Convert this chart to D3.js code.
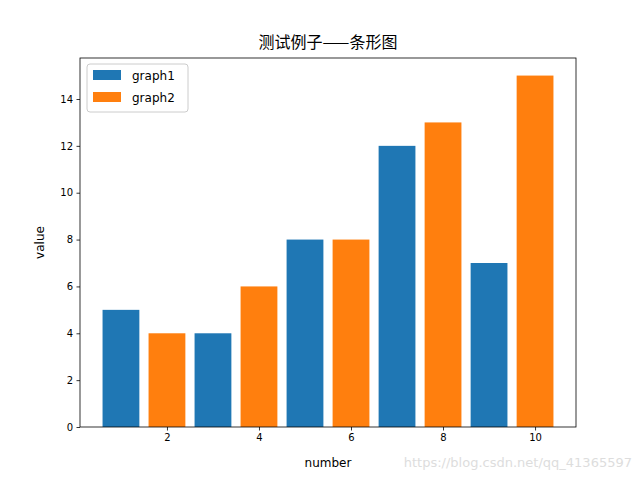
<!DOCTYPE html>
<html><head><meta charset="utf-8">
<script src="https://d3js.org/d3.v7.min.js"></script>
<style>body{margin:0;background:#fff}text{font-family:"DejaVu Sans",sans-serif}</style>
</head><body><svg id="c" width="640" height="480"></svg>
<script>
const x1 = [1,3,5,7,9];
const v1 = [5,4,8,12,7];
const x2 = [2,4,6,8,10];
const v2 = [4,6,8,13,15];
const xTicks = [2,4,6,8,10];
const yTicks = [0,2,4,6,8,10,12,14];
const names = ["graph1","graph2"];
const colors = ["#1f77b4","#ff7f0e"];

const svg = d3.select("#c");
const L=80,R=576,T=58,B=427;
const x = d3.scaleLinear().domain([0.11,10.89]).range([L,R]);
const y = d3.scaleLinear().domain([0,15.75]).range([B,T]);
const bw = x(0.8)-x(0);
[[x1,v1],[x2,v2]].forEach(([xs,vs],s)=>{
  svg.selectAll(null).data(xs).enter().append("rect")
    .attr("x",(d)=>x(d-0.4)).attr("width",bw)
    .attr("y",(d,i)=>y(vs[i])).attr("height",(d,i)=>B-y(vs[i]))
    .attr("fill",colors[s]);
});
const gx = svg.append("g").attr("transform",`translate(0,${B})`)
  .call(d3.axisBottom(x).tickValues(xTicks).tickSize(3.5).tickPadding(3.5));
const gy = svg.append("g").attr("transform",`translate(${L},0)`)
  .call(d3.axisLeft(y).tickValues(yTicks).tickSize(3.5).tickPadding(3.5));
[gx,gy].forEach(g=>{g.select(".domain").remove();g.selectAll("text").attr("font-size",10).attr("font-family","DejaVu Sans").attr("fill","#000");g.selectAll("line").attr("stroke","#000").attr("stroke-width",0.8);});
svg.append("rect").attr("x",L).attr("y",T).attr("width",R-L).attr("height",B-T)
  .attr("fill","none").attr("stroke","#000").attr("stroke-width",0.8);
svg.append("text").attr("x",(L+R)/2).attr("y",48).attr("text-anchor","middle")
  .attr("font-size",16).style("font-family","'Noto Sans CJK SC',sans-serif").text("测试例子——条形图");
svg.append("text").attr("x",(L+R)/2).attr("y",467).attr("text-anchor","middle").attr("font-size",12).text("number");
svg.append("text").attr("transform",`translate(44,${(T+B)/2}) rotate(-90)`).attr("text-anchor","middle").attr("font-size",12).text("value");
const lg = svg.append("g");
lg.append("rect").attr("x",87).attr("y",64).attr("width",101).attr("height",48).attr("rx",3)
  .attr("fill","#fff").attr("fill-opacity",0.8).attr("stroke","#ccc");
names.forEach((n,i)=>{
  lg.append("rect").attr("x",93).attr("y",70+i*22).attr("width",28).attr("height",10).attr("fill",colors[i]);
  lg.append("text").attr("x",132).attr("y",80+i*22).attr("font-size",12).text(n);
});
svg.append("text").attr("x",632).attr("y",467).attr("text-anchor","end").attr("font-size",13)
  .attr("fill","#ddd").text("https://blog.csdn.net/qq_41365597");
</script></body></html>
